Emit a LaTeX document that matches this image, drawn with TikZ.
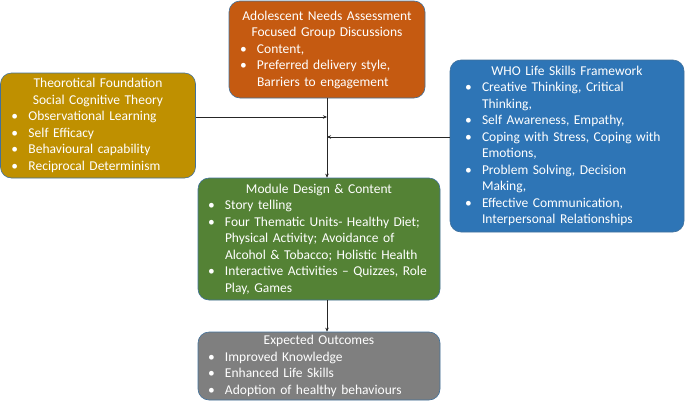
\documentclass[tikz,border=0pt]{standalone}
\usepackage{fontspec}
\setmainfont{Carlito}
\usepackage{xcolor}
\usetikzlibrary{arrows.meta}

\definecolor{needsorange}{HTML}{C55A11}
\definecolor{theorygold}{HTML}{BF9000}
\definecolor{whoblue}{HTML}{2E75B6}
\definecolor{modgreen}{HTML}{548235}
\definecolor{outgray}{HTML}{7F7F7F}
\definecolor{rim}{HTML}{41719C}

\newcommand\itm{\par\noindent\makebox[17pt][l]{•}}
\newcommand\brk{\hfil\break\hspace*{17pt}}

\begin{document}
\begin{tikzpicture}[x=1pt,y=-1pt,
  box/.style={draw=rim, line width=0.6pt, rounded corners=11pt, text=white,
    inner xsep=11pt, inner ysep=2pt,
    font=\fontsize{13.5}{16.5}\selectfont},
  arr/.style={-{Stealth[length=4pt,width=3.5pt]}, line width=0.8pt, draw=black!85}]
  \useasboundingbox (0,0) rectangle (685,402);

  \node[box, fill=needsorange, minimum width=196pt, minimum height=97pt,
    text width=174pt] (needs) at (327,49.5)
    {{\centering Adolescent Needs Assessment\\ Focused Group Discussions\par}
     \itm Content,
     \itm Preferred delivery style,\brk Barriers to engagement};

  \node[box, fill=theorygold, minimum width=195pt, minimum height=105pt,
    text width=173pt] (theory) at (98,125.5)
    {{\centering Theorotical Foundation\\ Social Cognitive Theory\par}
     \itm Observational Learning
     \itm Self Efficacy
     \itm Behavioural capability
     \itm Reciprocal Determinism};

  \node[box, fill=whoblue, minimum width=234pt, minimum height=172pt,
    inner xsep=15pt, text width=204pt] (who) at (567,146)
    {{\centering WHO Life Skills Framework\par}
     \itm Creative Thinking, Critical\brk Thinking,
     \itm Self Awareness, Empathy,
     \itm Coping with Stress, Coping with\brk Emotions,
     \itm Problem Solving, Decision\brk Making,
     \itm Effective Communication,\brk Interpersonal Relationships};

  \node[box, fill=modgreen, minimum width=242pt, minimum height=122pt,
    inner xsep=10pt, text width=222pt] (module) at (319,239)
    {{\centering Module Design \& Content\par}
     \itm Story telling
     \itm Four Thematic Units- Healthy Diet;\brk Physical Activity; Avoidance of\brk Alcohol \& Tobacco; Holistic Health
     \itm Interactive Activities -- Quizzes, Role\brk Play, Games};

  \node[box, fill=outgray, minimum width=242pt, minimum height=68pt,
    inner xsep=10pt, text width=222pt] (outcome) at (319,366)
    {{\centering Expected Outcomes\par}
     \itm Improved Knowledge
     \itm Enhanced Life Skills
     \itm Adoption of healthy behaviours};

  % joints on the vertical line
  \coordinate (jl) at (327,117);
  \coordinate (jr) at (327,137);

  \draw[arr] (needs.south) -- (needs.south |- module.north);
  \draw[arr] (theory.east |- jl) -- (jl);
  \draw[arr] (who.west |- jr) -- (jr);
  \draw[arr] (module.south -| jl) -- (outcome.north -| jl);
\end{tikzpicture}
\end{document}
